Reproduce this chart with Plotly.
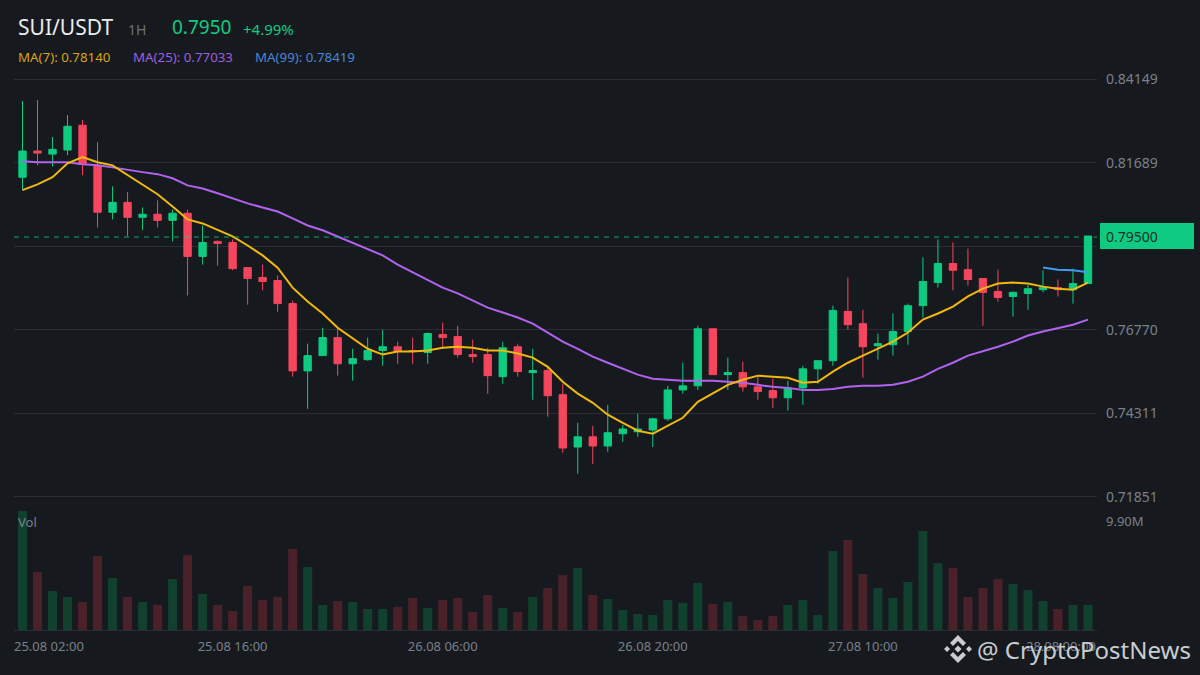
import pandas as pd
import plotly.graph_objects as go

# hourly candles, 25.08 02:00 -> 28.08 01:00
hours = [str(t) for t in pd.date_range("2025-08-25 02:00", periods=72, freq="h")]

opens = [.8126, .8203, .8194, .8206, .8279, .8161, .8023, .8052, .8008, .8017, .7999, .8020,
         .7893, .7937, .7934, .7860, .7831, .7822, .7754, .7556, .7601, .7654, .7577, .7589,
         .7616, .7627, .7616, .7610, .7663, .7657, .7604, .7604, .7539, .7627, .7551, .7557,
         .7486, .7332, .7362, .7335, .7371, .7377, .7382, .7415, .7500, .7512, .7680, .7545,
         .7551, .7509, .7498, .7477, .7506, .7562, .7586, .7731, .7695, .7630, .7633, .7672,
         .7748, .7816, .7872, .7854, .7828, .7790, .7775, .7784, .7795, .7801, .7795, .7813]
highs = [.8350, .8353, .8244, .8309, .8294, .8229, .8099, .8082, .8037, .8058, .8031, .8031,
         .7984, .7940, .7943, .7860, .7869, .7837, .7763, .7636, .7683, .7683, .7621, .7654,
         .7677, .7642, .7654, .7669, .7698, .7689, .7648, .7624, .7642, .7636, .7621, .7571,
         .7518, .7403, .7394, .7456, .7397, .7430, .7418, .7512, .7580, .7689, .7680, .7595,
         .7583, .7539, .7533, .7527, .7571, .7586, .7748, .7831, .7736, .7666, .7725, .7754,
         .7890, .7943, .7934, .7916, .7828, .7854, .7790, .7810, .7852, .7825, .7857, .7953]
lows = [.8088, .8161, .8158, .8191, .8132, .7978, .8002, .7952, .7970, .7978, .7937, .7778,
        .7869, .7866, .7852, .7751, .7793, .7730, .7539, .7444, .7601, .7542, .7527, .7586,
        .7571, .7577, .7577, .7577, .7627, .7595, .7580, .7489, .7518, .7539, .7471, .7421,
        .7315, .7253, .7282, .7318, .7347, .7362, .7332, .7409, .7489, .7500, .7545, .7500,
        .7495, .7471, .7447, .7439, .7456, .7518, .7571, .7677, .7536, .7589, .7601, .7633,
        .7713, .7801, .7793, .7807, .7689, .7760, .7716, .7736, .7787, .7775, .7754, .7813]
closes = [.8203, .8197, .8208, .8276, .8164, .8023, .8052, .8008, .8017, .7999, .8020, .7893,
          .7934, .7931, .7857, .7828, .7819, .7754, .7556, .7601, .7654, .7577, .7592, .7616,
          .7627, .7613, .7613, .7666, .7654, .7604, .7598, .7542, .7624, .7554, .7557, .7483,
          .7329, .7362, .7335, .7374, .7385, .7385, .7415, .7500, .7512, .7680, .7545, .7551,
          .7509, .7495, .7477, .7506, .7562, .7586, .7734, .7692, .7627, .7636, .7672, .7748,
          .7819, .7872, .7852, .7825, .7787, .7772, .7787, .7798, .7801, .7795, .7813, .7953]

ma7 = [.8088, .8105, .8126, .8167, .8185, .8170, .8161, .8132, .8105, .8076, .8040, .8002,
       .7990, .7972, .7952, .7925, .7896, .7860, .7801, .7760, .7725, .7683, .7651, .7621,
       .7604, .7613, .7613, .7616, .7624, .7627, .7624, .7616, .7616, .7607, .7595, .7568,
       .7524, .7489, .7462, .7427, .7403, .7380, .7371, .7394, .7418, .7465, .7489, .7515,
       .7530, .7542, .7539, .7536, .7521, .7524, .7554, .7580, .7601, .7621, .7642, .7669,
       .7707, .7725, .7745, .7775, .7798, .7813, .7816, .7813, .7804, .7798, .7795, .7816]
ma25 = [.8173, .8170, .8170, .8170, .8164, .8161, .8155, .8147, .8141, .8135, .8123, .8102,
        .8093, .8079, .8064, .8049, .8037, .8025, .8005, .7984, .7970, .7952, .7934, .7916,
        .7896, .7869, .7846, .7825, .7801, .7784, .7763, .7742, .7728, .7713, .7695, .7669,
        .7642, .7621, .7598, .7580, .7562, .7545, .7533, .7530, .7527, .7527, .7527, .7524,
        .7521, .7515, .7509, .7506, .7500, .7500, .7503, .7509, .7512, .7512, .7515, .7524,
        .7539, .7562, .7580, .7601, .7613, .7627, .7642, .7660, .7672, .7683, .7692, .7707]
# MA(99) only shows up for the last 4 hours
ma99 = [None] * 68 + [.7860, .7854, .7852, .7846]

# volume in millions
volumes = [10.81, 5.27, 3.54, 3.00, 2.54, 6.72, 4.72, 3.00, 2.54, 2.27, 4.63, 6.81,
           3.27, 2.27, 1.73, 4.00, 2.72, 3.00, 7.36, 5.72, 2.27, 2.63, 2.54, 1.91,
           1.91, 2.09, 2.91, 2.00, 2.72, 2.91, 1.63, 3.18, 2.00, 1.63, 3.00, 3.81,
           4.99, 5.63, 3.18, 2.82, 1.82, 1.45, 1.36, 2.72, 2.45, 4.27, 2.36, 2.54,
           1.27, 0.91, 1.27, 2.27, 2.72, 1.36, 7.17, 8.17, 5.09, 3.81, 2.91, 4.36,
           8.99, 6.08, 5.63, 3.00, 3.81, 4.63, 4.18, 3.63, 2.63, 1.91, 2.27, 2.27]

price_ticks = [.84149, .81689, .79230, .76770, .74311, .71851]
price_labels = ["0.84149", "0.81689", "", "0.76770", "0.74311", "0.71851"]
time_ticks = ["2025-08-25 16:00", "2025-08-26 06:00", "2025-08-26 20:00", "2025-08-27 10:00"]
time_labels = ["25.08 16:00", "26.08 06:00", "26.08 20:00", "27.08 10:00"]
last_price = 0.795

BG = "#161a1e"
GRID = "#2a2e34"
GREY = "#7a808a"
GREEN = "#0ecb81"
RED = "#f6465d"
FONT = "Noto Sans"
W, H = 1200, 675
LEFT, RIGHT = 14, 1097


# paper coords are relative to the plot area, not the page
def px(x):
    return (x - LEFT) / (RIGHT - LEFT)


def py(y):
    return 1 - y / H


vol_colors = ["#11402f" if c >= o else "#4b2129" for o, c in zip(opens, closes)]

fig = go.Figure()
fig.add_trace(go.Bar(x=hours, y=volumes, yaxis="y2", marker=dict(color=vol_colors, line_width=0)))
fig.add_trace(go.Candlestick(x=hours, open=opens, high=highs, low=lows, close=closes,
                             whiskerwidth=0,
                             increasing=dict(line=dict(color=GREEN, width=1), fillcolor=GREEN),
                             decreasing=dict(line=dict(color=RED, width=1), fillcolor=RED)))
for vals, color in [(ma25, "#b163f0"), (ma7, "#f0b90b"), (ma99, "#3f9cf0")]:
    fig.add_trace(go.Scatter(x=hours, y=vals, mode="lines", line=dict(color=color, width=2)))


def label(text, x, y, size, color, anchor="left"):
    fig.add_annotation(text=text, xref="paper", yref="paper", x=px(x), y=py(y), xanchor=anchor,
                       yanchor="middle", showarrow=False, font=dict(family=FONT, size=size, color=color))


label("SUI/USDT", 16, 27, 21, "#eaecef")
label("1H", 126, 29, 14, "#6b7078")
label("0.7950", 170, 27, 19, GREEN)
label("+4.99%", 241, 29, 15, GREEN)
label("MA(7): 0.78140", 16, 57, 13.3, "#d9a30f")
label("MA(25): 0.77033", 131, 57, 13.3, "#9d5fe0")
label("MA(99): 0.78419", 253, 57, 13.3, "#4a86d8")
label("Vol", 16, 522, 13, GREY)
label("9.90M", 1104, 521, 13, GREY)
label("25.08 02:00", 12, 646, 13, GREY)
label("28.08 00:00", 1098, 646, 13, GREY, "right")
label("@ CryptoPostNews", 975, 649, 24, "#c9ccd0")

# price tag on the right
fig.add_shape(type="rect", xref="paper", yref="paper", x0=px(1100), x1=px(1194), y0=py(249), y1=py(223),
              fillcolor=GREEN, line_width=0)
label("0.79500", 1104, 236, 14, "#14302a")
fig.add_shape(type="line", xref="paper", yref="y", x0=0, x1=1, y0=last_price, y1=last_price,
              line=dict(color=GREEN, width=1, dash="5px,5px"), opacity=0.8)

# binance logo next to the watermark
logo_cx, logo_cy = 958, 649
logo_parts = [[(0, -14), (8, -6), (5, -3), (0, -8), (-5, -3), (-8, -6)],
              [(0, 14), (8, 6), (5, 3), (0, 8), (-5, 3), (-8, 6)],
              [(0, -3.5), (3.5, 0), (0, 3.5), (-3.5, 0)],
              [(-11, -3), (-8, 0), (-11, 3), (-14, 0)],
              [(11, -3), (14, 0), (11, 3), (8, 0)]]
logo_path = ""
for part in logo_parts:
    logo_path += "M " + " L ".join(f"{px(logo_cx + a):.5f} {py(logo_cy + b):.5f}" for a, b in part) + " Z "
fig.add_shape(type="path", xref="paper", yref="paper", path=logo_path, fillcolor="#c9ccd0", line_width=0)

fig.update_layout(
    width=W, height=H, paper_bgcolor=BG, plot_bgcolor=BG, showlegend=False, bargap=0.4, boxgap=0.3,
    margin=dict(l=LEFT, r=W - RIGHT, t=0, b=0, pad=0, autoexpand=False),
    xaxis=dict(anchor="y2", type="date", range=["2025-08-25 01:26", "2025-08-28 01:36"],
               rangeslider=dict(visible=False), showgrid=False, zeroline=False, automargin=False,
               showline=True, linecolor=GRID, linewidth=1,
               tickmode="array", tickvals=time_ticks, ticktext=time_labels, ticks="",
               ticklabelstandoff=4, tickfont=dict(family=FONT, size=13, color=GREY)),
    yaxis=dict(domain=[py(500), py(60)], range=[.7176, .8471], side="right", showgrid=True, gridcolor=GRID,
               zeroline=False, tickmode="array", tickvals=price_ticks, ticktext=price_labels, ticks="",
               automargin=False, ticklabelstandoff=8, tickfont=dict(family=FONT, size=14, color=GREY)),
    yaxis2=dict(domain=[py(630), py(510)], range=[0, 10.9], showgrid=False, zeroline=False,
                automargin=False, showticklabels=False),
)

fig.write_html("out.html", config=dict(displayModeBar=False), post_script="document.body.style.margin='0';")
